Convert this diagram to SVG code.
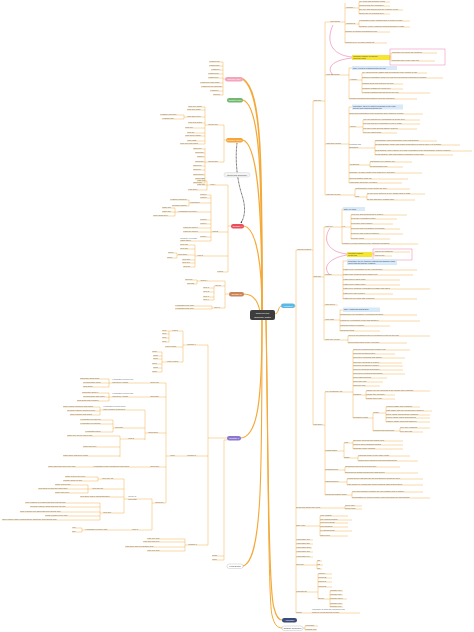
<svg xmlns="http://www.w3.org/2000/svg" width="474" height="632" viewBox="0 0 474 632">
<defs>
<style>
.c{fill:none;stroke:#f2a93b;stroke-width:.45}
.k{fill:none;stroke:#f4a938;stroke-linecap:round}
.p{fill:none;stroke:#e8609b;stroke-width:.5}
.t{font-family:"Liberation Sans",Arial,sans-serif;font-size:2px;fill:#666}
.h{font-family:"Liberation Sans",Arial,sans-serif;font-size:1.8px;fill:#335}
.n{font-family:"Liberation Sans",Arial,sans-serif;font-size:2.3px;fill:#fff;text-anchor:middle}
.d{font-family:"Liberation Sans",Arial,sans-serif;font-size:2.3px;fill:#444;text-anchor:middle}
.hb{fill:#d8e9f8}
</style>
<marker id="ah" viewBox="0 0 4 4" refX="3" refY="2" markerWidth="3" markerHeight="3" orient="auto"><path d="M0 0L4 2L0 4Z" fill="#333"/></marker>
</defs>
<rect width="474" height="632" fill="#fff"/>

<g id="trunk" class="k">
<path d="M262 311C262 160 262 92 243 79" stroke-width="1.6"/>
<path d="M262 311C262 170 260 106 243 100" stroke-width="1.3"/>
<path d="M262 311C262 210 258 145 243 140" stroke-width="1.3"/>
<path d="M262 311C262 262 256 228 244 226" stroke-width="1.2"/>
<path d="M260 312C258 300 252 294 244 294" stroke-width="1.1"/>
<path d="M262 320C262 400 258 436 241 438" stroke-width="1.2"/>
<path d="M262 320C262 480 262 560 243 566" stroke-width="1.1"/>
<path d="M275 314C279 314 278 306 281 306" stroke-width="1"/>
<path d="M266 320C268 420 268 590 274 608C276 616 278 620 282 620" stroke-width="1.2"/>
<path d="M266 320C268 420 268 600 272 615C274 624 277 628 282 628" stroke-width="1"/>
</g>

<g id="connectors">
<g class="c">
<path d="M295 306H296M296 250V613M296 250H313M313 101V425M313 101H325M325 22V195M313 277H324M324 227V340M313 425H325M325 392V495"/>
<path d="M325 22H345M345 3V43M345 8H359M359 2V14M359 2H390M359 6H390M359 10H403M359 14H390M345 24H359M359 21V27M359 21H410M359 27H410M345 32H390M345 43H387"/>
<path d="M325 75H349M349 68V99M349 68H352M349 80H362M362 73V93M362 73H427M362 78H443M362 84H403M362 89H403M362 93H430M349 99H417"/>
<path d="M325 144H349M349 107V183M349 107H352M349 114H423M349 127H363M363 120V133M363 120H420M363 124H420M363 129H417M363 133H397M349 148H375M375 141V155M375 141H437M375 145H460M375 151H472M375 155H453M349 165H370M370 162V167M370 162H412M370 167H403M349 173H422M349 179H408M349 183H402"/>
<path d="M325 195H355M355 189V197M355 189H410M355 197H367M367 194V200M367 194H425M367 200H415"/>
<path d="M390 57H391M391 53V61M391 53H437M391 61H435M372 254H374M374 252V256M374 252H410M374 256H392"/>
<path d="M324 227H342M342 209V244M342 209H343M342 227H351M351 215V239M351 215H407M351 219H397M351 224H393M351 229H400M351 234H403M351 239H390M342 244H418"/>
<path d="M324 275H343M343 261V299M343 261H347M343 270H417M343 275H413M343 280H400M343 285H400M343 289H430M343 294H393M343 299H417M324 305H338"/>
<path d="M324 320H340M340 310V331M340 310H343M340 315H417M340 321H420M340 326H390M340 331H380M324 340H348M348 336V343M348 336H430M348 343H407"/>
<path d="M325 392H353M353 350V418M353 350H410M353 354H395M353 358H405M353 363H402M353 366H403M353 370H403M353 374H405M353 378H387M353 382H383M353 386H380M353 395H366M366 391V399M366 391H430M366 395H395M366 399H395M353 418H373M373 413V431M373 413H386M386 407V422M386 407H420M386 411H432M386 415H430M386 418H430M386 422H430M373 431H400M400 428V432M400 428H430M400 432H423"/>
<path d="M325 451H344M344 443V458M344 443H353M353 441V449M353 441H403M353 445H403M353 449H403M344 458H358M358 456V461M358 456H410M358 461H418M325 470H345M345 467V473M345 467H400M345 473H418M325 482H347M347 479V485M347 479H423M347 485H423M325 495H352M352 492V498M352 492H423M352 498H430"/>
<path d="M296 508H345M345 506V509M345 506H362M345 509H362M296 526H320M320 516V536M320 516H348M320 520H352M320 523H348M320 527H348M320 531H352M320 536H348M296 540H313M296 544H313M296 548H312M296 552H313M296 557H313M296 565H317M317 561V569M317 561H322M317 565H323M317 569H322M296 592H318M318 574V599M318 574H332M318 578H332M318 582H332M318 587H332M318 599H330M330 591V607M330 591H343M330 595H343M330 599H347M330 604H343M330 607H343M296 613H360M303 628H305M305 626V630M305 626H318M305 630H317"/>
<path d="M225 79H223M223 62V95M223 62H209M223 66H209M223 70H211M223 74H208M223 78H208M223 83H200M223 87H201M223 91H210M223 95H213"/>
<path d="M226 140H224M224 125V162M224 125H205M205 107V144M205 107H188M205 110H187M205 117H187M205 123H188M205 128H185M205 133H187M205 136H185M205 141H187M205 144H180M187 117H184M184 115V119M184 115H160M184 119H162M224 162H205M205 148V183M205 149H193M205 153H195M205 157H197M205 162H195M205 166H193M205 170H193M205 175H193M205 179H195M205 183H193"/>
<path d="M231 226H228M228 185V272M228 185H207M207 181V190M207 181H197M207 185H197M207 190H188M228 232H211M211 195V241M211 195H200M211 198H200M211 203H189M189 200V206M189 200H170M189 206H172M211 212H175M175 208V216M175 208H162M175 212H162M175 216H153M211 220H200M211 224H200M211 228H183M211 232H183M211 237H200M211 241H180M228 256H195M195 245V267M195 245H180M195 249H180M195 255H177M177 253V258M177 253H168M177 258H167M195 260H182M195 263H182M195 267H183M228 272H217"/>
<path d="M229 294H225M225 281V308M225 281H197M197 280V284M197 280H185M197 284H187M225 286H214M214 286V300M214 288H203M214 292H203M214 297H203M214 300H203M225 308H212M212 306V309M212 306H175M212 309H175"/>
<path d="M227 438H208M208 345V545M227 440H224M224 440V560M224 556H212M224 560H212M208 345H183M183 331V362M183 331H169M169 331V342M169 331H162M169 334H162M169 338H162M169 342H162M183 347H165M183 362H162M162 352V372M162 352H152M162 356H153M162 359H153M162 364H152M162 368H153M162 372H152"/>
<path d="M208 456H166M166 383V503M166 383H109M109 379V387M109 379H80M109 383H83M109 387H83M166 397H109M109 393V401M109 393H82M109 397H83M109 401H77M166 433H145M145 410V440M145 410H100M100 407V415M100 407H63M100 411H67M100 415H70M145 428H113M113 420V432M113 420H80M113 424H80M113 432H85M145 439H120M120 436V457M120 436H67M120 447H83M120 456H63M166 467H48"/>
<path d="M166 503H152M152 499V530M152 499H124M124 479V513M124 479H98M98 477V481M98 477H65M98 481H63M124 489H88M88 485V493M88 485H55M88 489H38M88 493H55M124 497H80M124 513H100M100 503V520M100 503H25M100 507H30M100 512H20M100 516H45M100 520H2M152 530H82M82 528V532M82 528H72M82 532H72M208 545H185M185 539V551M185 539H147M185 542H143M185 547H125M185 551H147"/>
</g>
<g class="p">
<path d="M333 25C326 40 330 55 352 57M352 58C332 60 326 68 333 75"/>
<path d="M330 228C322 240 328 252 347 254M347 255C328 258 322 268 330 275"/>
</g>
<path d="M237 143C235 160 237 180 242 195C246 208 245 216 241 223" fill="none" stroke="#333" stroke-width=".7" stroke-dasharray="1 .4" marker-end="url(#ah)"/>
</g>

<g id="center"><rect x="250" y="310" width="25" height="10" rx="2" fill="#3d3d3d"/><text class="n" x="262.5" y="314.3">Term Review</text><text class="n" x="262.5" y="317.8">Summary Notes</text></g>
<g id="n-pink"><rect x="225" y="77" width="18" height="4.5" rx="2.2" fill="#f3a5bd"/><text class="n" x="234" y="80">Chapter One</text></g>
<g id="n-green"><rect x="227" y="98" width="16" height="4.5" rx="2.2" fill="#72b870"/><text class="n" x="235" y="101">Chapter Two</text></g>
<g id="n-orange"><rect x="226" y="138" width="17" height="4.5" rx="2.2" fill="#f5a53c"/><text class="n" x="234.5" y="141">Chapter Three</text></g>
<g id="n-float"><rect x="224" y="172.5" width="26" height="4.5" rx="2.2" fill="#f4f4f4" stroke="#bbb" stroke-width=".3"/><text class="d" x="237" y="175.5">Ideas and summary</text></g>
<g id="n-red"><rect x="231" y="224" width="13" height="4.5" rx="2.2" fill="#e9505a"/><text class="n" x="237.5" y="227">Chapter 4</text></g>
<g id="n-copper"><rect x="229" y="292" width="15" height="4.5" rx="2.2" fill="#c98458"/><text class="n" x="236.5" y="295">Chapter 5</text></g>
<g id="n-purple"><rect x="227" y="436" width="14" height="4.5" rx="2.2" fill="#8a78cf"/><text class="n" x="234" y="439">Chapter 6</text></g>
<g id="n-final"><rect x="227" y="564" width="16" height="4.5" rx="2.2" fill="#fff" stroke="#999" stroke-width=".3"/><text class="d" x="235" y="567">Final Exam</text></g>
<g id="n-blue"><rect x="281" y="303.5" width="14" height="4.5" rx="2.2" fill="#5ab8e6"/><text class="n" x="288" y="306.6">Lessons</text></g>
<g id="n-navy"><rect x="282" y="618" width="15" height="4.5" rx="2.2" fill="#3b4b78"/><text class="n" x="289.5" y="621.1">Appendix</text></g>
<g id="n-outside"><rect x="282" y="626" width="21" height="4.5" rx="2.2" fill="#fff" stroke="#999" stroke-width=".3"/><text class="d" x="292.5" y="629.1">Outside Schedule</text></g>

<g id="n-yellow1"><rect x="352" y="55" width="38" height="5" fill="#f7e533"/><text class="h" x="353" y="57.2">Important reminder for this unit</text><text class="h" x="353" y="59.2">check the notes</text><rect x="390" y="49" width="55" height="16" fill="none" stroke="#e8609b" stroke-width=".4"/></g>
<g id="n-yellow2"><rect x="347" y="252" width="25" height="5" fill="#f7e533"/><text class="h" x="348" y="254.2">Important reminder</text><text class="h" x="348" y="256.2">for this unit</text><rect x="373" y="249" width="39" height="11" fill="none" stroke="#e8609b" stroke-width=".4"/></g>

<g id="highlights">
<rect class="hb" x="352" y="66" width="45" height="4"/><text class="h" x="353" y="68.8">Note: review all examples before the test</text>
<rect class="hb" x="352" y="104.5" width="51" height="5"/><text class="h" x="353" y="106.6">Remember: list of key facts to memorise for the exam</text><text class="h" x="353" y="108.7">and the main formulas from this unit</text>
<rect class="hb" x="343" y="207" width="22" height="4"/><text class="h" x="344" y="209.8">Note: key facts</text>
<rect class="hb" x="347" y="259" width="50" height="6"/><text class="h" x="348" y="261.6">Remember: the key sentence patterns and grammar points</text><text class="h" x="348" y="263.8">used in this unit and the examples</text>
<rect class="hb" x="343" y="307.5" width="37" height="4.5"/><text class="h" x="344" y="310.3">Note: reading and writing skills</text>
</g>

<g id="b-r1" class="t">
<text x="297.3" y="249.5">Course content</text>
<text x="313.5" y="100.5">Part one</text>
<text x="313.5" y="276.5">Part two</text>
<text x="313.5" y="424.5">Part three</text>
<text x="330.3" y="21.5">Unit topics</text>
<text x="346.3" y="7.5">Section A</text>
<text x="359.3" y="1.5">key term and definition notes</text>
<text x="359.3" y="5.5">concept and its explanation</text>
<text x="359.3" y="9.5">the rule with formula and an example of use</text>
<text x="359.3" y="13.5">short note on meaning here</text>
<text x="346.3" y="23.5">Section B</text>
<text x="359.3" y="20.5">explanation of the method used in class exercise</text>
<text x="359.3" y="26.5">summary of the examples worked through in class</text>
<text x="345.3" y="31.5">Section C   practice questions review</text>
<text x="345.3" y="42.5">Section D   key revision points list</text>
<text x="392" y="52.5">Reminder one   check the answers</text>
<text x="392" y="60.5">Reminder two   revise each unit</text>
<text x="326.3" y="74.5">Unit two topics</text>
<text x="350.3" y="79.5">Lesson</text>
<text x="362.3" y="72.5">key idea from the lesson and its meaning in the context of use</text>
<text x="362.3" y="77.5">detailed explanation of the rule and several worked examples to practise</text>
<text x="362.3" y="83.5">method steps and notes for solving</text>
<text x="362.3" y="88.5">common mistakes to avoid here</text>
<text x="362.3" y="92.5">exercise answers and checks for the unit</text>
<text x="349.3" y="98.5">Practice   questions and answers from the workbook</text>
<text x="326.3" y="143.5">Unit three topics</text>
<text x="349.3" y="113.5">Topic   term   description of the definition and examples in detail</text>
<text x="350.3" y="126.5">Rules</text>
<text x="363.3" y="119.5">rule one and the full explanation of its use here</text>
<text x="363.3" y="123.5">rule two and the explanation of use in class</text>
<text x="363.3" y="128.5">rule three with worked sample problem</text>
<text x="363.3" y="132.5">rule four short notes</text>
<text x="349.3" y="145.4">Methods and</text>
<text x="349.3" y="147.5">strategies</text>
<text x="375.3" y="140.5">first strategy name   description of the first strategy</text>
<text x="375.3" y="144.5">second strategy name and reason   description of how to apply it in practice</text>
<text x="375.3" y="150.5">third strategy and example of it   long explanation of the third strategy with an example</text>
<text x="375.3" y="154.5">fourth strategy with notes   short explanation of the case</text>
<text x="350.3" y="164.5">Examples</text>
<text x="370.3" y="161.5">first   sample of example one</text>
<text x="370.3" y="166.5">second   sample two</text>
<text x="349.3" y="172.5">Summary of main points   extra notes here and more</text>
<text x="349.3" y="178.5">Review   practice page list</text>
<text x="349.3" y="182.5">Homework   check the exercises</text>
<text x="326.3" y="194.5">Unit four review</text>
<text x="355.3" y="188.5">Test   topics to revise before the quiz</text>
<text x="355.3" y="196.5">Tips</text>
<text x="367.3" y="193.5">tip one   keep notes of all key words used in class</text>
<text x="367.3" y="199.5">tip two and three   practise daily</text>
</g>

<g id="b-r2" class="t">
<text x="325.3" y="226.5">Unit five</text>
<text x="342.6" y="226.5">L1</text>
<text x="351.3" y="214.5">term one and its meaning in context</text>
<text x="351.3" y="218.5">term two explanation notes</text>
<text x="351.3" y="223.5">term three and example</text>
<text x="351.3" y="228.5">term four and explanation of meaning</text>
<text x="351.3" y="233.5">term five and related examples</text>
<text x="351.3" y="238.5">term six notes</text>
<text x="342.3" y="243.5">Practice   exercise   answers to the workbook questions</text>
<text x="375" y="251.5">Check one   answers</text>
<text x="375" y="255.5">Check two</text>
<text x="325.3" y="274.5">Unit six</text>
<text x="343.3" y="269.5">Pattern one   explanation of use in sentences</text>
<text x="343.3" y="274.5">Pattern two   meaning and example text</text>
<text x="343.3" y="279.5">Pattern three   short notes</text>
<text x="343.3" y="284.5">Pattern four   usage notes</text>
<text x="343.3" y="288.5">Pattern five   detailed explanation of usage and cases</text>
<text x="343.3" y="293.5">Pattern six   and example</text>
<text x="343.3" y="298.5">Pattern seven   notes with examples</text>
<text x="325.3" y="304.5">Unit seven</text>
<text x="325.3" y="319.5">Unit eight</text>
<text x="340.3" y="314.5">Reading skill one   summary of method and steps</text>
<text x="340.3" y="320.5">Writing   full explanation of the task structure</text>
<text x="340.3" y="325.5">Listening   notes on practice</text>
<text x="340.3" y="330.5">Speaking   notes</text>
<text x="325.3" y="339.5">Unit nine review</text>
<text x="348.3" y="335.5">Review one   detailed list of everything to learn for the test</text>
<text x="348.3" y="342.5">Review two   notes on the exercises</text>
</g>

<g id="b-r3" class="t">
<text x="325.3" y="391.5">Key vocabulary list</text>
<text x="353.3" y="349.5">word one   meaning and example use</text>
<text x="353.3" y="353.5">word two   meaning notes</text>
<text x="353.3" y="357.5">word three   meaning and sample</text>
<text x="353.3" y="362.5">word four   meaning in context</text>
<text x="353.3" y="365.5">word five   meaning in context</text>
<text x="353.3" y="369.5">word six   meaning and sample</text>
<text x="353.3" y="373.5">word seven   meaning and sample</text>
<text x="353.3" y="377.5">word eight   meaning</text>
<text x="353.3" y="381.5">word nine   note</text>
<text x="353.3" y="385.5">word ten   note</text>
<text x="353.3" y="394.5">Phrases</text>
<text x="366.3" y="390.5">phrase one   the meaning of the phrase and examples</text>
<text x="366.3" y="394.5">phrase two meaning</text>
<text x="366.3" y="398.5">phrase three note</text>
<text x="353.3" y="417.5">Grammar points</text>
<text x="373.3" y="412.5">Tense</text>
<text x="386.3" y="406.5">present   usage and examples</text>
<text x="386.3" y="410.5">past   usage with time words and examples</text>
<text x="386.3" y="414.5">future   usage and sentence samples</text>
<text x="386.3" y="417.5">perfect   usage notes and samples</text>
<text x="386.3" y="421.5">passive   usage notes and samples</text>
<text x="373.3" y="430.5">Clauses and sentences</text>
<text x="400.3" y="427.5">type one   examples</text>
<text x="400.3" y="431.5">type two   note</text>
<text x="325.3" y="450.5">Writing tasks</text>
<text x="344.3" y="442.5">Tips</text>
<text x="353.3" y="440.5">structure   opening and closing lines</text>
<text x="353.3" y="444.5">content   main paragraph details</text>
<text x="353.3" y="448.5">language   useful phrases</text>
<text x="344.3" y="457.5">Essay</text>
<text x="358.3" y="455.5">planning   outline of the essay parts</text>
<text x="358.3" y="460.5">writing   topic sentence and supporting detail</text>
<text x="325.3" y="469.5">Reading skills</text>
<text x="345.3" y="466.5">skimming   read for the general idea</text>
<text x="345.3" y="472.5">scanning for details   find specific facts quickly</text>
<text x="325.3" y="481.5">Listening skills</text>
<text x="347.3" y="478.5">predict before listening   use the questions to guess the topic</text>
<text x="347.3" y="484.5">note taking key words   write down numbers names and places</text>
<text x="325.3" y="494.5">Speaking practice tasks</text>
<text x="352.3" y="491.5">pair work dialogue   practise the conversation with a partner</text>
<text x="352.3" y="497.5">presentation on a topic   prepare notes and speak for two minutes</text>
</g>

<g id="b-r4" class="t">
<text x="296.3" y="507.5">Exam tips   before the exam</text>
<text x="345.3" y="505.5">sleep early</text>
<text x="345.3" y="508.5">check tools</text>
<text x="296.3" y="525.5">Daily plan</text>
<text x="320.3" y="515.5">Mon   reading</text>
<text x="320.3" y="519.5">Tue   writing practice</text>
<text x="320.3" y="522.5">Wed   new words</text>
<text x="320.3" y="526.5">Thu   grammar</text>
<text x="320.3" y="530.5">Fri   listening test</text>
<text x="320.3" y="535.5">Sat   review</text>
<text x="296.3" y="539.5">Homework one</text>
<text x="296.3" y="543.5">Homework two</text>
<text x="296.3" y="547.5">Homework three</text>
<text x="296.3" y="551.5">Homework four</text>
<text x="296.3" y="556.5">Homework five</text>
<text x="296.3" y="564.5">Quizzes</text>
<text x="317.3" y="560.5">Q1</text>
<text x="317.3" y="564.5">Q2</text>
<text x="317.3" y="568.5">Q3</text>
<text x="296.3" y="591.5">Projects list</text>
<text x="318.3" y="573.5">project A</text>
<text x="318.3" y="577.5">project B</text>
<text x="318.3" y="581.5">project C</text>
<text x="318.3" y="586.5">project D</text>
<text x="318.3" y="598.5">Group</text>
<text x="330.3" y="590.5">member one</text>
<text x="330.3" y="594.5">member two</text>
<text x="330.3" y="598.5">member three</text>
<text x="330.3" y="603.5">member four</text>
<text x="330.3" y="606.5">member five</text>
<text x="296.3" y="612.5">Notes</text>
<text x="312" y="610.3">remember to bring the workbook and</text>
<text x="312" y="612.5">finish all review sheets on time</text>
<text x="305.3" y="625.5">extra task</text>
<text x="305.3" y="629.5">reading club</text>
</g>

<g id="b-pink" class="t">
<text x="209.3" y="61.5">Lesson one</text>
<text x="209.3" y="65.5">Lesson two</text>
<text x="211.3" y="69.5">Lesson 3</text>
<text x="208.3" y="73.5">Lesson four</text>
<text x="208.3" y="77.5">Lesson five</text>
<text x="200.3" y="82.5">Lesson six with notes</text>
<text x="201.3" y="86.5">Lesson seven and test</text>
<text x="210.3" y="90.5">Lesson 8</text>
<text x="213.3" y="94.5">Review</text>
</g>

<g id="b-orange" class="t">
<text x="208.3" y="124.5">Group one</text>
<text x="188.3" y="106.5">Item one notes</text>
<text x="187.3" y="109.5">Item two notes</text>
<text x="187.3" y="116.5">Item three here</text>
<text x="160.3" y="114.5">example one here</text>
<text x="162.3" y="118.5">example two</text>
<text x="188.3" y="122.5">Item four notes</text>
<text x="185.3" y="127.5">Item five</text>
<text x="187.3" y="132.5">Item six</text>
<text x="185.3" y="135.5">Item seven notes</text>
<text x="187.3" y="140.5">Item eight</text>
<text x="180.3" y="143.5">Item nine and notes</text>
<text x="208.3" y="161.5">Group two</text>
<text x="193.3" y="148.5">word one</text>
<text x="195.3" y="152.5">word two</text>
<text x="197.3" y="156.5">word 3</text>
<text x="195.3" y="161.5">word four</text>
<text x="193.3" y="165.5">word five</text>
<text x="193.3" y="169.5">word six</text>
<text x="193.3" y="174.5">word seven</text>
<text x="195.3" y="178.5">word eight</text>
<text x="193.3" y="182.5">word nine</text>
</g>

<g id="b-red" class="t">
<text x="210.3" y="184.5">Part A</text>
<text x="197.3" y="180.5">note one</text>
<text x="197.3" y="184.5">note two</text>
<text x="188.3" y="189.5">note three</text>
<text x="212.3" y="231.5">Part B</text>
<text x="200.3" y="194.5">point 1</text>
<text x="200.3" y="197.5">point 2</text>
<text x="190.3" y="202.5">point three</text>
<text x="170.3" y="199.5">example sentence</text>
<text x="172.3" y="205.5">second example</text>
<text x="178.3" y="211.5">explanation of point 4</text>
<text x="162.3" y="207.5">detail one</text>
<text x="162.3" y="211.5">detail two</text>
<text x="153.3" y="215.5">more detail here</text>
<text x="200.3" y="219.5">point 5</text>
<text x="200.3" y="223.5">point 6</text>
<text x="183.3" y="227.5">notes for point 7</text>
<text x="183.3" y="231.5">notes for point 8</text>
<text x="200.3" y="236.5">point 9</text>
<text x="180.3" y="238.5">summary of points</text>
<text x="180.3" y="240.6">listed above</text>
<text x="197.3" y="255.5">Part C</text>
<text x="180.3" y="244.5">item one</text>
<text x="180.3" y="248.5">item two</text>
<text x="178.3" y="254.5">item three</text>
<text x="168.3" y="252.5">sub a</text>
<text x="167.3" y="257.5">sub b</text>
<text x="182.3" y="259.5">item four</text>
<text x="182.3" y="262.5">item five</text>
<text x="183.3" y="266.5">item six</text>
<text x="217.3" y="271.5">Part D</text>
</g>

<g id="b-copper" class="t">
<text x="200.5" y="280.5">Group A</text>
<text x="185.3" y="279.5">sub one</text>
<text x="187.3" y="283.5">sub two</text>
<text x="215.3" y="285.5">Grp B</text>
<text x="203.3" y="287.5">item 1</text>
<text x="203.3" y="291.5">item 2</text>
<text x="203.3" y="296.5">item 3</text>
<text x="203.3" y="299.5">item 4</text>
<text x="214.3" y="307.5">Grp C</text>
<text x="175.3" y="305.5">explanation one   note</text>
<text x="175.3" y="308.5">explanation two   note</text>
</g>

<g id="b-purple" class="t">
<text x="187.3" y="344.5">Section 1</text>
<text x="172.3" y="330.5">Part a</text>
<text x="162.3" y="330.5">item</text>
<text x="162.3" y="333.5">item</text>
<text x="162.3" y="337.5">item</text>
<text x="162.3" y="341.5">item</text>
<text x="165.3" y="346.5">Part b notes</text>
<text x="167.3" y="361.5">Part c notes</text>
<text x="152.3" y="351.5">word</text>
<text x="153.3" y="355.5">word</text>
<text x="153.3" y="358.5">word</text>
<text x="152.3" y="363.5">word</text>
<text x="153.3" y="367.5">word</text>
<text x="152.3" y="371.5">word</text>
<text x="187.3" y="455.5">Section 2</text>
<text x="170.3" y="455.5">Main</text>
<text x="150.3" y="382.5">Topic one</text>
<text x="112.3" y="380.4">explanation of topic one</text>
<text x="112.3" y="382.5">and its key points</text>
<text x="80.3" y="378.5">first detail about topic</text>
<text x="83.3" y="382.5">second detail notes</text>
<text x="83.3" y="386.5">third detail</text>
<text x="150.3" y="396.5">Topic two</text>
<text x="112.3" y="394.4">explanation of topic two</text>
<text x="112.3" y="396.5">and its key points</text>
<text x="82.3" y="392.5">first detail about it</text>
<text x="83.3" y="396.5">second detail and notes</text>
<text x="77.3" y="400.5">third detail and example</text>
<text x="148.3" y="432.5">Topic three</text>
<text x="103.3" y="407.4">explanation of topic three</text>
<text x="103.3" y="409.5">with example sentences</text>
<text x="63.3" y="406.5">first example sentence with notes</text>
<text x="67.3" y="410.5">second example sentence here</text>
<text x="70.3" y="414.5">third example and notes</text>
<text x="115.3" y="427.5">sub part</text>
<text x="80.3" y="419.5">explanation of part one</text>
<text x="80.3" y="423.5">explanation of part two</text>
<text x="85.3" y="431.5">explanation three</text>
<text x="128.3" y="438.5">Sub B</text>
<text x="67.3" y="435.5">detail text one for sub b part</text>
<text x="83.3" y="446.5">detail two here</text>
<text x="63.3" y="455.5">detail three with more notes</text>
<text x="48.3" y="466.5">detail about the topic here and</text>
<text x="93.3" y="466.5">explanation of the fourth topic and notes</text>
<text x="150.3" y="466.5">Topic four</text>
<text x="155.3" y="502.5">Topic five</text>
<text x="128.3" y="497.4">Group of</text>
<text x="128.3" y="499.5">sub parts</text>
<text x="102.3" y="478.5">item one list</text>
<text x="65.3" y="476.5">detail of item one here</text>
<text x="63.3" y="480.5">another detail of item</text>
<text x="92.3" y="488.5">item two list</text>
<text x="55.3" y="484.5">detail of item two</text>
<text x="38.3" y="488.5">long detail of item two with notes</text>
<text x="55.3" y="492.5">detail note here</text>
<text x="80.3" y="496.5">item three with a long description</text>
<text x="103.3" y="512.5">item four</text>
<text x="25.3" y="502.5">long example text about this item and   its note</text>
<text x="30.3" y="506.5">second example about this item   its note</text>
<text x="20.3" y="511.5">third example text about this item and   its note</text>
<text x="45.3" y="515.5">fourth example here   note</text>
<text x="2.3" y="519.5">fifth example with a long sentence about the item and its note</text>
<text x="132.3" y="529.5">Sub C</text>
<text x="85.3" y="529.5">explanation of sub c part</text>
<text x="72.3" y="527.5">one</text>
<text x="72.3" y="531.5">two</text>
<text x="188.3" y="544.5">Section 3</text>
<text x="147.3" y="538.5">note one   item</text>
<text x="143.3" y="541.5">note two   item text</text>
<text x="125.3" y="546.5">note three and explanation   item</text>
<text x="147.3" y="550.5">note four   item</text>
<text x="212.3" y="555.5">Extra</text>
<text x="212.3" y="559.5">More</text>
</g>
</svg>
